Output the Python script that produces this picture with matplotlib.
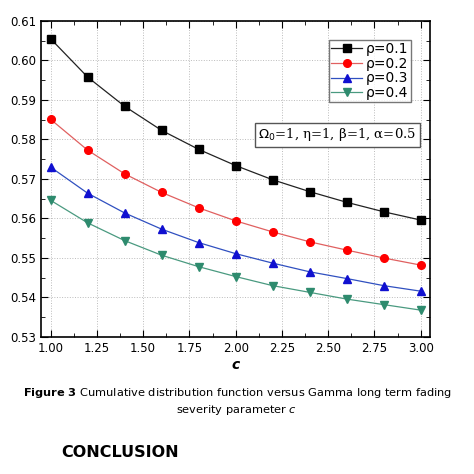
import numpy as np
import matplotlib.pyplot as plt

c = [1.0, 1.2, 1.4, 1.6, 1.8, 2.0, 2.2, 2.4, 2.6, 2.8, 3.0]
rho01 = [0.6055, 0.5958, 0.5884, 0.5823, 0.5775, 0.5734, 0.5698, 0.5668, 0.5641, 0.5617, 0.5596]
rho02 = [0.5851, 0.5773, 0.5713, 0.5666, 0.5627, 0.5594, 0.5566, 0.5541, 0.5520, 0.5500, 0.5482]
rho03 = [0.5730, 0.5664, 0.5614, 0.5573, 0.5539, 0.5511, 0.5487, 0.5465, 0.5448, 0.5430, 0.5416]
rho04 = [0.5646, 0.5589, 0.5544, 0.5507, 0.5478, 0.5453, 0.5430, 0.5413, 0.5396, 0.5382, 0.5368]

fig = plt.figure(figsize=(4.74, 4.74), dpi=100)
ax = fig.add_axes([41 / 474, 1 - 337 / 474, 389 / 474, 316 / 474])

ax.plot(c, rho01, '-s', color='#222222', mfc='black', mec='black', ms=5.5, lw=0.9, label='ρ=0.1')
ax.plot(c, rho02, '-o', color='#e06060', mfc='red', mec='red', ms=5.5, lw=0.9, label='ρ=0.2')
ax.plot(c, rho03, '-^', color='#3050c0', mfc='#1010d0', mec='#1010d0', ms=6, lw=0.9, label='ρ=0.3')
ax.plot(c, rho04, '-v', color='#4a9a80', mfc='#2e8b6e', mec='#2e8b6e', ms=6, lw=0.9, label='ρ=0.4')

ax.set_xlim(0.948, 3.05)
ax.set_ylim(0.53, 0.61)
ax.set_xticks([1.0, 1.25, 1.5, 1.75, 2.0, 2.25, 2.5, 2.75, 3.0])
ax.set_xticklabels(['1.00', '1.25', '1.50', '1.75', '2.00', '2.25', '2.50', '2.75', '3.00'])
ax.set_yticks(np.arange(0.53, 0.6101, 0.01))
ax.set_yticklabels([f'{v:.2f}' for v in np.arange(0.53, 0.6101, 0.01)])
ax.set_xticks(np.arange(1.125, 3.0, 0.25), minor=True)
ax.set_yticks(np.arange(0.535, 0.61, 0.01), minor=True)
ax.tick_params(which='both', direction='in', top=True, right=True, labelsize=8.5)
ax.tick_params(which='major', length=5)
ax.tick_params(which='minor', length=3)
ax.grid(True, which='major', ls=':', color='#bbbbbb', lw=0.7)
for s in ax.spines.values():
    s.set_linewidth(1.2)

leg = ax.legend(loc='upper right', bbox_to_anchor=(0.95, 0.94), fontsize=10,
                frameon=True, fancybox=False, edgecolor='#555555',
                handlelength=2.2, borderpad=0.15, labelspacing=0.05, handletextpad=0.3,
                borderaxespad=0)
ax.text(0.965, 0.64, r'$\Omega_0$=1, η=1, β=1, α=0.5', transform=ax.transAxes,
        ha='right', va='center', fontsize=9.5, family='DejaVu Serif',
        bbox=dict(boxstyle='square,pad=0.25', fc='white', ec='#555555'))

ax.set_xlabel('c', fontsize=10, fontweight='bold', style='italic', labelpad=2)

fig.text(0.5, 0.165, r'$\bf{Figure\ 3}$ Cumulative distribution function versus Gamma long term fading',
         ha='center', fontsize=8.2)
fig.text(0.5, 0.128, 'severity parameter $c$', ha='center', fontsize=8.2)
fig.text(0.13, 0.035, 'CONCLUSION', fontsize=11.5, fontweight='bold')

fig.savefig('out.png', dpi=100)
